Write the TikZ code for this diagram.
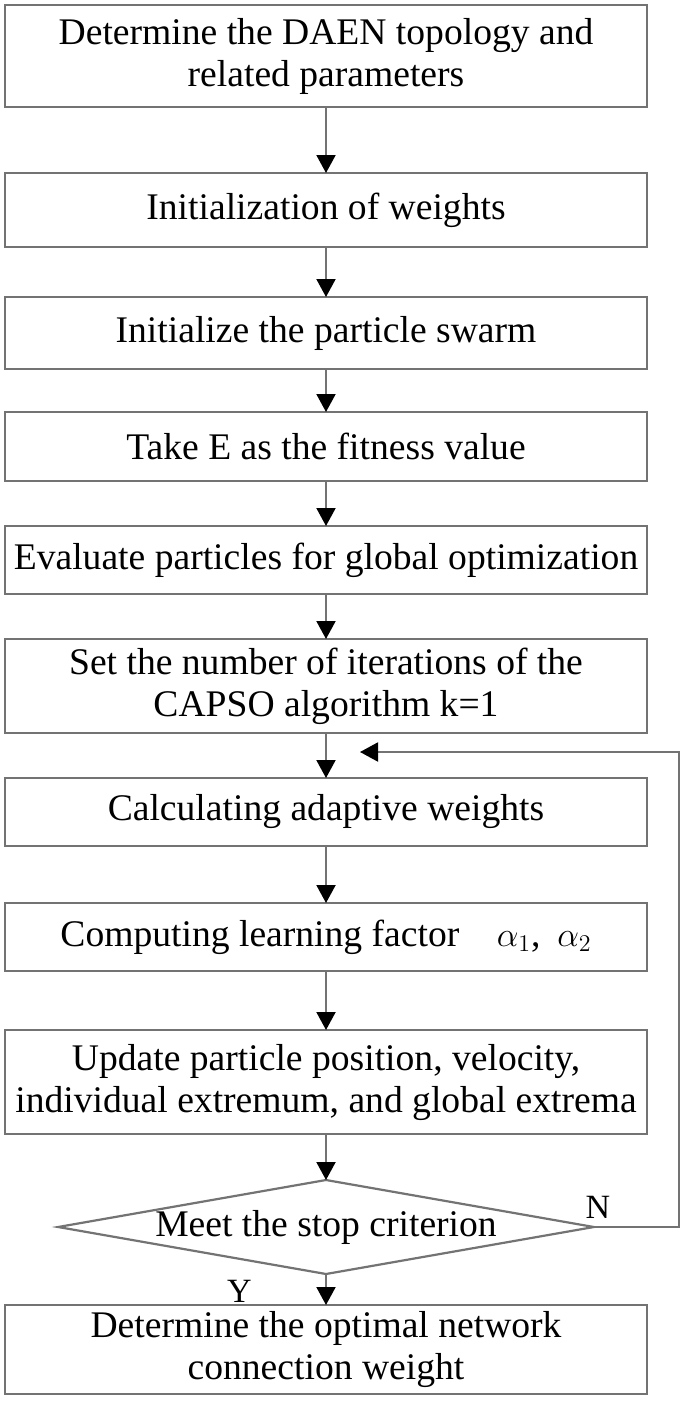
\documentclass[tikz,border=0pt]{standalone}
\usepackage{fontspec}
\setmainfont{Liberation Serif}
\usetikzlibrary{shapes, arrows.meta, positioning}

\begin{document}
\begin{tikzpicture}[
  procnode/.style={draw=black!55, line width=1.1pt, rectangle, minimum width=321pt, inner sep=2pt, outer sep=0pt, align=center, font=\fontsize{18.8}{21}\selectfont},
  decnode/.style={draw=black!55, line width=1.1pt, diamond, aspect=5.7, inner sep=0pt, outer sep=0pt, align=center, font=\fontsize{18.8}{21}\selectfont},
  flow/.style={-{Triangle[length=9pt, width=9.5pt, color=black]}, line width=1pt, black!55},
  brlabel/.style={font=\fontsize{17}{20}\selectfont, inner sep=1pt}
]
\useasboundingbox (0,0) rectangle (342.5pt,-701.5pt);

% Set-up of network and swarm
\node[procnode, minimum height=51pt] (Topo)   at (163pt,-28pt) {Determine the DAEN topology and\\related parameters};
\node[procnode, minimum height=37pt] (InitW)  [below=33pt of Topo]   {Initialization of weights};
\node[procnode, minimum height=36pt] (InitPS) [below=25pt of InitW]  {Initialize the particle swarm};
\node[procnode, minimum height=34.5pt] (Fit)  [below=21.5pt of InitPS] {Take E as the fitness value};
\node[procnode, minimum height=34pt] (Eval)   [below=22.5pt of Fit]  {Evaluate particles for global optimization};
\node[procnode, minimum height=47pt] (SetK)   [below=22.5pt of Eval] {Set the number of iterations of the\\CAPSO algorithm k=1};

% CAPSO iteration
\node[procnode, minimum height=34pt] (AdW)    [below=22.5pt of SetK] {Calculating adaptive weights};
\node[procnode, minimum height=34pt] (LearnF) [below=28.5pt of AdW]  {Computing learning factor\quad$\alpha_1$,\;\,$\alpha_2$};
\node[procnode, minimum height=52pt] (Upd)    [below=29.5pt of LearnF] {Update particle position, velocity,\\individual extremum, and global extrema};
\node[decnode] (Stop) [below=23pt of Upd] {Meet the stop criterion};
\node[procnode, minimum height=44.5pt] (Opt)  [below=15.5pt of Stop] {Determine the optimal network\\connection weight};

% Loop entry point
\coordinate (LoopIn) at ([xshift=17pt, yshift=-9.5pt]SetK.south);

% Flows
\draw[flow] (Topo) -- (InitW);
\draw[flow] (InitW) -- (InitPS);
\draw[flow] (InitPS) -- (Fit);
\draw[flow] (Fit) -- (Eval);
\draw[flow] (Eval) -- (SetK);
\draw[flow] (SetK) -- (AdW);
\draw[flow] (AdW) -- (LearnF);
\draw[flow] (LearnF) -- (Upd);
\draw[flow] (Upd) -- (Stop);
\draw[flow] (Stop) -- (Opt);

% N goes back round, Y goes on
\draw[flow] (Stop.east) -- ++(42.5pt,0) |- (LoopIn);
\node[brlabel] (Nlab) [above=3pt of Stop.east, xshift=2pt] {N};
\node[brlabel] (Ylab) [above left=0pt and 36pt of Opt.north] {Y};

\end{tikzpicture}
\end{document}
